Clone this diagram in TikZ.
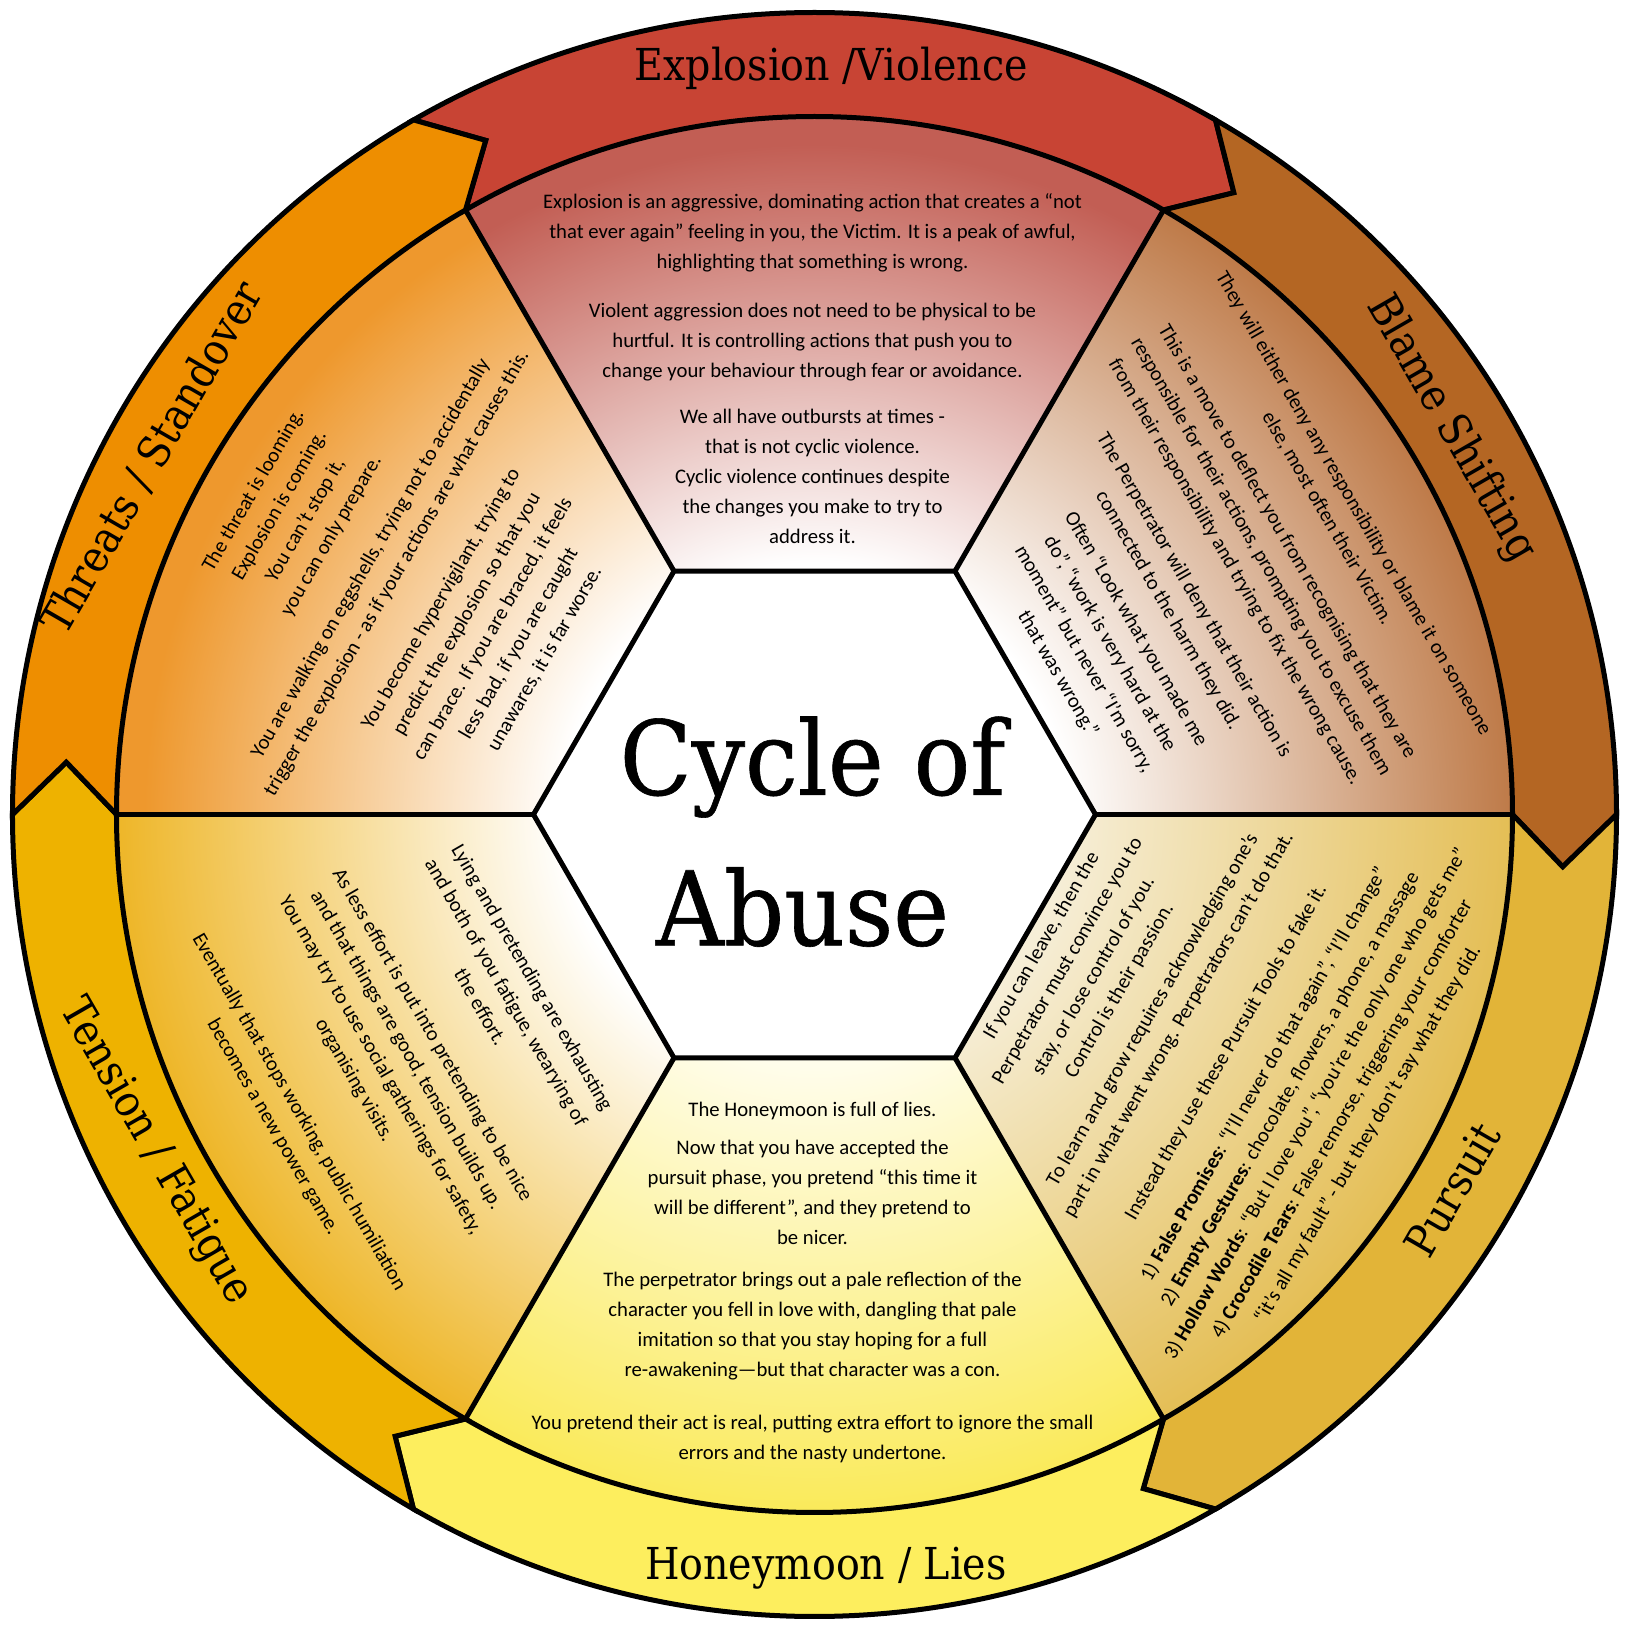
\documentclass[tikz,border=0pt]{standalone}
\usepackage{fontspec}
\setmainfont{Carlito}
\newfontfamily\titlefont{DejaVu Serif}[FakeStretch=0.915,FakeBold=0.6]
\newfontfamily\labelfont{DejaVu Serif}[FakeStretch=0.9]

\definecolor{segRed}{RGB}{200,68,52}
\definecolor{segBrown}{RGB}{180,102,35}
\definecolor{segGold}{RGB}{226,180,56}
\definecolor{segYellow}{RGB}{253,238,94}
\definecolor{segAmber}{RGB}{238,178,0}
\definecolor{segOrange}{RGB}{238,142,0}

\definecolor{wTop}{RGB}{194,94,84}
\definecolor{wTR}{RGB}{190,122,72}
\definecolor{wBR}{RGB}{228,190,85}
\definecolor{wBRin}{RGB}{246,238,215}
\definecolor{wBot}{RGB}{250,234,90}
\definecolor{wBotin}{RGB}{255,253,235}
\definecolor{wBL}{RGB}{238,182,40}
\definecolor{wTL}{RGB}{238,152,45}

\pgfdeclareradialshading{shTop}{\pgfpoint{0bp}{0bp}}{color(0bp)=(white); color(9bp)=(white); color(24bp)=(wTop); color(50bp)=(wTop)}
\pgfdeclareradialshading{shTR}{\pgfpoint{0bp}{0bp}}{color(0bp)=(white); color(9bp)=(white); color(25bp)=(wTR); color(50bp)=(wTR)}
\pgfdeclareradialshading{shBR}{\pgfpoint{0bp}{0bp}}{color(0bp)=(wBRin); color(9bp)=(wBRin); color(25bp)=(wBR); color(50bp)=(wBR)}
\pgfdeclareradialshading{shBot}{\pgfpoint{0bp}{0bp}}{color(0bp)=(wBotin); color(9bp)=(wBotin); color(25bp)=(wBot); color(50bp)=(wBot)}
\pgfdeclareradialshading{shBL}{\pgfpoint{0bp}{0bp}}{color(0bp)=(white); color(9bp)=(white); color(25bp)=(wBL); color(50bp)=(wBL)}
\pgfdeclareradialshading{shTL}{\pgfpoint{0bp}{0bp}}{color(0bp)=(white); color(9bp)=(white); color(24bp)=(wTL); color(50bp)=(wTL)}

\newcommand{\mySector}[3]{%
  \begin{scope}
    \clip (0,0) -- (#1:699pt) arc[start angle=#1, end angle=#2, radius=699pt] -- cycle;
    \shade[shading=#3] (0,0) circle (698pt);
  \end{scope}}
\newcommand{\mySeg}[3]{%
  \filldraw[ringline, fill=#3] (#1:802pt) arc[start angle=#1, end angle=#2, radius=802pt]
    -- ({#2-4}:750pt) -- (#2:698pt) arc[start angle=#2, end angle=#1, radius=698pt]
    -- ({#1-4}:750pt) -- cycle;}

\begin{document}
\begin{tikzpicture}[x=1pt,y=1pt,
  ringline/.style={line width=5pt, draw=black, line join=miter},
  txt/.style={align=center, font=\fontsize{20.7}{30}\selectfont, inner sep=0pt},
  lab/.style={font=\labelfont\fontsize{44}{50}\selectfont, inner sep=0pt},
  ttl/.style={font=\titlefont\fontsize{103}{120}\selectfont, inner sep=0pt, anchor=base}]
\useasboundingbox (-814.5,-814.5) rectangle (814.5,814.5);

% wedge shadings
\mySector{60}{120}{shTop}
\mySector{0}{60}{shTR}
\mySector{-60}{0}{shBR}
\mySector{-120}{-60}{shBot}
\mySector{180}{240}{shBL}
\mySector{120}{180}{shTL}

% ring segments (clockwise arrows)
\mySeg{120}{60}{segRed}
\mySeg{60}{0}{segBrown}
\mySeg{0}{-60}{segGold}
\mySeg{-60}{-120}{segYellow}
\mySeg{-120}{-180}{segAmber}
\mySeg{180}{120}{segOrange}

% spokes
\foreach \a in {0,60,...,300} \draw[line width=5pt] (\a:281pt) -- (\a:698pt);

% hexagon
\filldraw[fill=white, line width=5pt, line join=miter]
  (0:281pt) -- (60:281pt) -- (120:281pt) -- (180:281pt) -- (240:281pt) -- (300:281pt) -- cycle;

% title
\node[ttl] (title1) at (-2,19.7) {Cycle of};
\node[ttl] (title2) at (-12,-130.9) {Abuse};

% ring labels
\node[lab, anchor=base] (labExpl) at (16.6,733.5) {Explosion /Violence};
\node[lab, anchor=base] (labHoney) at (11.4,-764.7) {Honeymoon / Lies};
\begin{scope}[rotate=-60, transform shape]
  \node[lab] (labBlame) at (-15.7,744) {Blame Shifting};
  \node[lab] (labTension) at (-37,-740) {Tension / Fatigue};
\end{scope}
\begin{scope}[rotate=60, transform shape]
  \node[lab] (labThreat) at (-22.5,752) {Threats / Standover};
  \node[lab] (labPursuit) at (-5.8,-740) {Pursuit};
\end{scope}

% top wedge text
\node[txt] (tp1) at (-2,581.8) {Explosion is an aggressive, dominating action that creates a “not\\ that ever again” feeling in you, the Victim. It is a peak of awful,\\ highlighting that something is wrong.};
\node[txt] (tp2) at (-2,472.7) {Violent aggression does not need to be physical to be\\ hurtful. It is controlling actions that push you to\\ change your behaviour through fear or avoidance.};
\node[txt] (tp3) at (-2,337.6) {We all have outbursts at times -\\ that is not cyclic violence.\\ Cyclic violence continues despite\\ the changes you make to try to\\ address it.};

% bottom wedge text
\node[txt] (bt1) at (-2,-296.1) {The Honeymoon is full of lies.};
\node[txt] (bt2) at (-2,-378.2) {Now that you have accepted the\\ pursuit phase, you pretend “this time it\\ will be different”, and they pretend to\\ be nicer.};
\node[txt] (bt3) at (-2,-511.7) {The perpetrator brings out a pale reflection of the\\ character you fell in love with, dangling that pale\\ imitation so that you stay hoping for a full\\ re-awakening—but that character was a con.};
\node[txt] (bt4) at (-2,-624.9) {You pretend their act is real, putting extra effort to ignore the small\\ errors and the nasty undertone.};

% top-right and bottom-left wedge text
\begin{scope}[rotate=-60, transform shape]
  \node[txt] (tr1) at (0,607.3) {They will either deny any responsibility or blame it on someone\\ else, most often their Victim.};
  \node[txt] (tr2) at (0,515.3) {This is a move to deflect you from recognising that they are\\ responsible for their actions, prompting you to excuse them\\ from their responsibility and trying to fix the wrong cause.};
  \node[txt] (tr3) at (0,423) {The Perpetrator will deny that their action is\\ connected to the harm they did.};
  \node[txt] (tr4) at (0,326) {Often “Look what you made me\\ do”, “work is very hard at the\\ moment” but never “I’m sorry,\\ that was wrong.”};
  \node[txt] (bl1) at (0,-355.3) {Lying and pretending are exhausting\\ and both of you fatigue, wearying of\\ the effort.};
  \node[txt] (bl2) at (0,-486.7) {As less effort is put into pretending to be nice\\ and that things are good, tension builds up.\\ You may try to use social gatherings for safety,\\ organising visits.};
  \node[txt] (bl3) at (0,-610.4) {Eventually that stops working, public humiliation\\ becomes a new power game.};
\end{scope}

% top-left and bottom-right wedge text
\begin{scope}[rotate=60, transform shape]
  \node[txt] (tl1) at (0,602.6) {The threat is looming.\\ Explosion is coming.\\ You can’t stop it,\\ you can only prepare.};
  \node[txt] (tl2) at (0,497) {You are walking on eggshells, trying not to accidentally\\ trigger the explosion - as if your actions are what causes this.};
  \node[txt] (tl3) at (0,371.4) {You become hypervigilant, trying to\\ predict the explosion so that you\\ can brace. If you are braced, it feels\\ less bad, if you are caught\\ unawares, it is far worse.};
  \node[txt] (br1) at (0,-307.5) {If you can leave, then the\\ Perpetrator must convince you to\\ stay, or lose control of you.\\ Control is their passion.};
  \node[txt] (br2) at (0,-405.7) {To learn and grow requires acknowledging one’s\\ part in what went wrong. Perpetrators can’t do that.};
  \node[txt] (br3) at (0,-475.6) {Instead they use these Pursuit Tools to fake it.};
  \node[txt] (br4) at (0,-579.2) {1) \textbf{False Promises}: “I’ll never do that again”, “I’ll change”\\ 2) \textbf{Empty Gestures}: chocolate, flowers, a phone, a massage\\ 3) \textbf{Hollow Words}: “But I love you”, “you’re the only one who gets me”\\ 4) \textbf{Crocodile Tears}: False remorse, triggering your comforter\\ “it’s all my fault” - but they don’t say what they did.};
\end{scope}
\end{tikzpicture}
\end{document}
